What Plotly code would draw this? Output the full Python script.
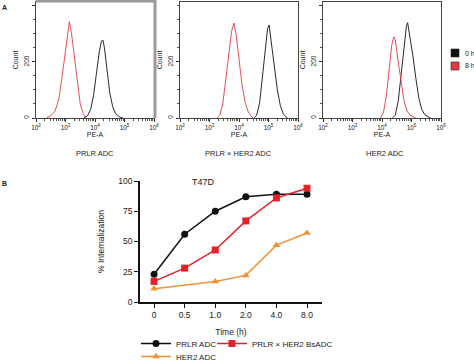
import plotly.graph_objects as go

W, H = 474, 362
FONT = "Arial, Liberation Sans, sans-serif"

# ---------------- Panel A data: flow cytometry histograms ----------------
# PE-A intensity (log10 units) and event counts
h1_red_log = [2.35, 2.5, 2.65, 2.78, 2.9, 3.0, 3.08, 3.13, 3.2, 3.3, 3.4, 3.5, 3.6, 3.7]
h1_red_cnt = [0, 8, 25, 70, 160, 250, 320, 344, 305, 220, 120, 50, 15, 0]
h1_blk_log = [3.62, 3.75, 3.85, 3.95, 4.05, 4.15, 4.22, 4.27, 4.32, 4.4, 4.5, 4.6, 4.7, 4.85, 4.95]
h1_blk_cnt = [0, 8, 30, 80, 160, 240, 275, 278, 250, 170, 90, 40, 15, 3, 0]

h2_red_log = [3.25, 3.35, 3.45, 3.55, 3.65, 3.75, 3.83, 3.9, 4.0, 4.1, 4.2, 4.3, 4.4, 4.48]
h2_red_cnt = [0, 10, 50, 130, 230, 310, 339, 300, 210, 120, 60, 25, 8, 0]
h2_blk_log = [4.5, 4.6, 4.7, 4.8, 4.9, 4.97, 5.02, 5.1, 5.2, 5.3, 5.4, 5.5, 5.6, 5.65]
h2_blk_cnt = [0, 10, 55, 150, 260, 320, 332, 270, 180, 100, 45, 15, 3, 0]

h3_red_log = [3.95, 4.05, 4.15, 4.25, 4.33, 4.4, 4.45, 4.55, 4.65, 4.75, 4.85, 4.95, 5.1, 5.15]
h3_red_cnt = [0, 20, 80, 180, 260, 290, 280, 200, 120, 60, 25, 10, 2, 0]
h3_blk_log = [4.35, 4.45, 4.55, 4.65, 4.75, 4.83, 4.87, 4.95, 5.05, 5.15, 5.25, 5.35, 5.45, 5.6, 5.65]
h3_blk_cnt = [0, 10, 60, 160, 260, 330, 340, 290, 220, 140, 70, 30, 12, 2, 0]

hist_titles = ["PRLR ADC", "PRLR × HER2 ADC", "HER2 ADC"]
hist_legend = ["0 h", "8 h"]
decades = [2, 3, 4, 5, 6]

# ---------------- Panel B data: internalization ----------------
time_labels = ["0", "0.5", "1.0", "2.0", "4.0", "8.0"]
prlr_adc = [23, 56, 75, 87, 89, 89]
bs_adc = [17, 28, 43, 67, 86, 94]
her2_adc = [11, None, 17, 22, 47, 57]

BLACK = "#111111"
RED = "#e3222b"
HRED = "#e53a43"
ORANGE = "#f0923a"


def px(x):
    return x / W


def py(y):
    return 1 - y / H


fig = go.Figure()

hists = [
    (h1_red_log, h1_red_cnt, h1_blk_log, h1_blk_cnt),
    (h2_red_log, h2_red_cnt, h2_blk_log, h2_blk_cnt),
    (h3_red_log, h3_red_cnt, h3_blk_log, h3_blk_cnt),
]
lefts = [36, 180, 323]
hw = 118
minor_vals = [m * 10 ** d for d in range(2, 6) for m in range(2, 10)]

for i, (rl, rc, bl, bc) in enumerate(hists):
    ax = "" if i == 0 else str(i + 1)
    fig.add_trace(go.Scatter(x=[10 ** v for v in bl], y=bc, mode="lines",
                             line=dict(color=BLACK, width=0.9), showlegend=False,
                             xaxis="x" + ax, yaxis="y" + ax))
    fig.add_trace(go.Scatter(x=[10 ** v for v in rl], y=rc, mode="lines",
                             line=dict(color=HRED, width=0.9), showlegend=False,
                             xaxis="x" + ax, yaxis="y" + ax))
    l = lefts[i]
    fig.layout["xaxis" + ax] = dict(
        domain=[px(l), px(l + hw)], anchor="y" + ax, type="log", range=[2, 6], automargin=False,
        tickvals=[10 ** d for d in decades],
        ticktext=["10<sup>%d</sup>" % d for d in decades],
        ticks="outside", ticklen=3, tickwidth=0.8, tickcolor="#333",
        minor=dict(tickvals=minor_vals, ticks="outside", ticklen=2, tickwidth=0.6, tickcolor="#555"),
        showline=True, linecolor="#444", linewidth=1, mirror=True,
        showgrid=False, zeroline=False,
        tickfont=dict(size=6.5, color="#222", family=FONT),
        title=dict(text="PE-A", font=dict(size=7, color="#222", family=FONT), standoff=2),
    )
    yt = [0, 200, 400] if i != 1 else [0, 200]
    fig.layout["yaxis" + ax] = dict(
        domain=[py(118), py(2)], anchor="x" + ax, range=[0, 414], automargin=False,
        tickvals=yt, ticktext=[str(v) for v in yt], tickangle=-90,
        ticks="outside", ticklen=3, tickwidth=0.8, tickcolor="#333",
        minor=dict(dtick=50, ticks="outside", ticklen=2, tickwidth=0.6, tickcolor="#555"),
        showline=True, linecolor="#444", linewidth=1, mirror=True,
        showgrid=False, zeroline=False,
        tickfont=dict(size=6.5, color="#222", family=FONT),
        title=dict(text="Count", font=dict(size=7, color="#222", family=FONT), standoff=3),
    )

# gray highlight frame on first histogram (top and right)
fig.add_shape(type="line", xref="paper", yref="paper", x0=px(36), x1=px(155), y0=py(1), y1=py(1),
              line=dict(color="#9a9a9a", width=3))
fig.add_shape(type="line", xref="paper", yref="paper", x0=px(155), x1=px(155), y0=py(0), y1=py(118),
              line=dict(color="#9a9a9a", width=3))

centers = [95, 238, 385]
annotations = []
for c, t in zip(centers, hist_titles):
    annotations.append(dict(x=px(c), y=py(153), xref="paper", yref="paper", text=t, showarrow=False,
                            font=dict(size=7.5, color="#222", family=FONT), xanchor="center", yanchor="middle"))

# legend for panel A
for yy, col, lab in [(53, BLACK, hist_legend[0]), (66, HRED, hist_legend[1])]:
    fig.add_shape(type="rect", xref="paper", yref="paper", x0=px(451), x1=px(459), y0=py(yy + 4), y1=py(yy - 4),
                  fillcolor=col, line=dict(color="#222", width=0.6))
    annotations.append(dict(x=px(463), y=py(yy), xref="paper", yref="paper", text=lab, showarrow=False,
                            font=dict(size=7, color="#222", family=FONT), xanchor="left", yanchor="middle"))

annotations.append(dict(x=px(0), y=py(8), xref="paper", yref="paper", text="<b>A</b>", showarrow=False,
                        font=dict(size=7, color="#222", family=FONT), xanchor="left", yanchor="middle"))
annotations.append(dict(x=px(0), y=py(183), xref="paper", yref="paper", text="<b>B</b>", showarrow=False,
                        font=dict(size=7, color="#222", family=FONT), xanchor="left", yanchor="middle"))
annotations.append(dict(x=px(203), y=py(182), xref="paper", yref="paper", text="T47D", showarrow=False,
                        font=dict(size=9, color="#222", family=FONT), xanchor="center", yanchor="middle"))

# ---------------- Panel B ----------------
fig.add_trace(go.Scatter(x=time_labels, y=prlr_adc, mode="lines+markers", name="PRLR ADC",
                         line=dict(color=BLACK, width=1.5), marker=dict(symbol="circle", size=7, color=BLACK),
                         xaxis="x4", yaxis="y4", legend="legend"))
fig.add_trace(go.Scatter(x=time_labels, y=bs_adc, mode="lines+markers", name="PRLR × HER2 BsADC",
                         line=dict(color=RED, width=1.5), marker=dict(symbol="square", size=7, color=RED),
                         xaxis="x4", yaxis="y4", legend="legend2"))
fig.add_trace(go.Scatter(x=time_labels, y=her2_adc, mode="lines+markers", name="HER2 ADC", connectgaps=True,
                         line=dict(color=ORANGE, width=1.5), marker=dict(symbol="triangle-up", size=7, color=ORANGE),
                         xaxis="x4", yaxis="y4", legend="legend3"))

fig.update_layout(
    xaxis4=dict(domain=[px(140), px(322)], anchor="y4", type="category", range=[-0.46, 5.49], automargin=False,
                ticks="outside", ticklen=4, tickwidth=1.3, tickcolor="#111",
                showline=True, linecolor="#111", linewidth=1.6, showgrid=False, zeroline=False,
                tickfont=dict(size=8.5, color="#222", family=FONT),
                title=dict(text="Time (h)", font=dict(size=8.5, color="#222", family=FONT), standoff=10)),
    yaxis4=dict(domain=[py(302), py(181)], anchor="x4", range=[0, 100], automargin=False,
                tickvals=[0, 25, 50, 75, 100],
                ticks="outside", ticklen=4, tickwidth=1.3, tickcolor="#111",
                showline=True, linecolor="#111", linewidth=1.6, showgrid=False, zeroline=False,
                tickfont=dict(size=8.5, color="#222", family=FONT),
                title=dict(text="% Internalization", font=dict(size=8.5, color="#222", family=FONT), standoff=12)),
)

leg_common = dict(orientation="h", xanchor="left", yanchor="top", itemwidth=30,
                  font=dict(size=8, color="#222", family=FONT), bgcolor="rgba(0,0,0,0)")

fig.update_layout(
    width=W, height=H, margin=dict(l=0, r=0, t=0, b=0, autoexpand=False),
    paper_bgcolor="white", plot_bgcolor="white",
    font=dict(family=FONT, color="#222"),
    annotations=annotations,
    legend=dict(x=px(136), y=py(329), **leg_common),
    legend2=dict(x=px(212), y=py(329), **leg_common),
    legend3=dict(x=px(136), y=py(342), **leg_common),
)

fig.write_html("out.html", config={"displayModeBar": False},
               post_script="document.body.style.margin='0';document.body.style.padding='0';")
